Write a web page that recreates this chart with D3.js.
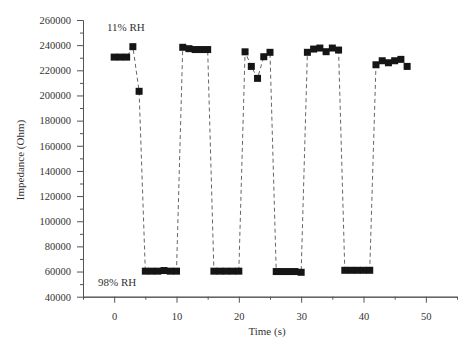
<!DOCTYPE html>
<html>
<head>
<meta charset="utf-8">
<script src="https://cdn.jsdelivr.net/npm/d3@7"></script>
<style>
  body { margin: 0; background: #fff; }
  text { font-family: "Liberation Serif", "DejaVu Serif", serif; fill: #333; }
</style>
</head>
<body>
<div id="chart-area"></div>
<script>
// data
var times = [0,1,2,3,4,5,6,7,8,9,10,11,12,13,14,15,16,17,18,19,20,21,22,23,
             24,25,26,27,28,29,30,31,32,33,34,35,36,37,38,39,40,41,42,43,44,45,46,47];
var impedance = [230500,230500,230500,238800,203300,
                 60300,60300,60300,60800,60300,60300,
                 238300,237200,236500,236500,236500,
                 60300,60300,60300,60300,60300,
                 234700,223100,213600,230800,234300,
                 60000,60000,60000,60000,59400,
                 234300,236900,237700,234800,237700,236100,
                 61000,61000,61000,61000,61000,
                 224400,227600,226000,227600,228700,223100];
var xTicks = [0,10,20,30,40,50];
var xMinor = [-5,5,15,25,35,45,55];
var yTicks = [40000,60000,80000,100000,120000,140000,160000,180000,200000,220000,240000,260000];
var yMinor = [50000,70000,90000,110000,130000,150000,170000,190000,210000,230000,250000];

var data = times.map(function(t,i){ return {t:t, v:impedance[i]}; });

var svg = d3.select("#chart-area").append("svg")
    .attr("width",474)
    .attr("height",353);

var x = d3.scaleLinear().domain([-5,55]).range([83,457]);
var y = d3.scaleLinear().domain([40000,260000]).range([296.7,20]);

var axisColor = "#555";

// x axis
svg.append("g")
    .attr("transform","translate(0,296.7)")
    .call(d3.axisBottom(x).tickValues(xTicks).tickSize(6).tickSizeOuter(0).tickPadding(10).tickFormat(d3.format("d")));
svg.append("g")
    .attr("transform","translate(0,296.7)")
    .call(d3.axisBottom(x).tickValues(xMinor).tickSize(3).tickSizeOuter(0).tickFormat(""));

// y axis
svg.append("g")
    .attr("transform","translate(83,0)")
    .call(d3.axisLeft(y).tickValues(yTicks).tickSize(6).tickSizeOuter(0).tickPadding(6).tickFormat(d3.format("d")));
svg.append("g")
    .attr("transform","translate(83,0)")
    .call(d3.axisLeft(y).tickValues(yMinor).tickSize(3).tickSizeOuter(0).tickFormat(""));

svg.selectAll(".domain").attr("stroke",axisColor);
svg.selectAll(".tick line").attr("stroke",axisColor);
svg.selectAll(".tick text")
    .style("font-family","'Liberation Serif', serif")
    .style("font-size","10.5px")
    .attr("fill","#333");

// dashed connecting line
var line = d3.line()
    .x(function(d){ return x(d.t); })
    .y(function(d){ return y(d.v); });

svg.append("path")
    .datum(data)
    .attr("d",line)
    .attr("fill","none")
    .attr("stroke","#666")
    .attr("stroke-width",1)
    .attr("stroke-dasharray","4,3");

// square markers
var s = 7;
svg.selectAll("rect.pt")
    .data(data)
  .enter()
    .append("rect")
    .attr("class","pt")
    .attr("x",function(d){ return x(d.t) - s/2; })
    .attr("y",function(d){ return y(d.v) - s/2; })
    .attr("width",s)
    .attr("height",s)
    .attr("fill","#151515");

// annotations
svg.append("text")
    .attr("x",107).attr("y",31)
    .style("font-size","11px")
    .text("11% RH");
svg.append("text")
    .attr("x",98).attr("y",286)
    .style("font-size","11px")
    .text("98% RH");

// axis titles
svg.append("text")
    .attr("x",267).attr("y",335)
    .attr("text-anchor","middle")
    .style("font-size","11px")
    .text("Time (s)");
svg.append("text")
    .attr("transform","translate(24,160) rotate(-90)")
    .attr("text-anchor","middle")
    .style("font-size","11px")
    .text("Impedance (Ohm)");
</script>
</body>
</html>
